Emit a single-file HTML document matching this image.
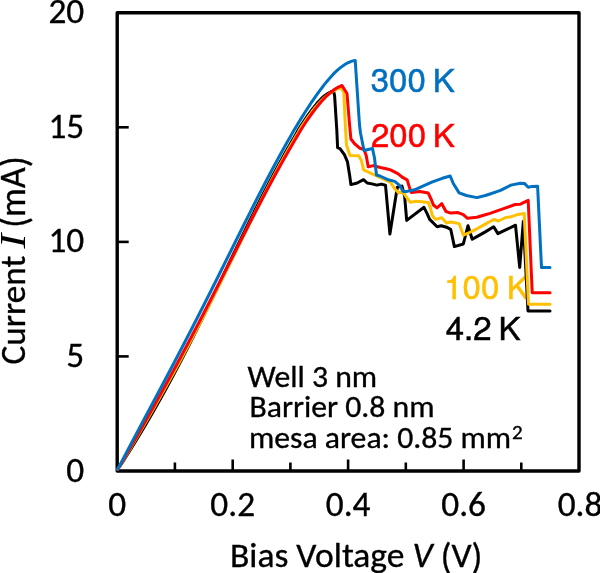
<!DOCTYPE html>
<html><head><meta charset="utf-8"><style>
html,body{margin:0;padding:0;background:#fff;width:600px;height:573px;overflow:hidden}
svg{display:block}
.c{font-family:Carlito,"Liberation Sans",sans-serif;stroke:#000;stroke-width:0.35px}
.h{font-family:"TeX Gyre Heros","Liberation Sans",Arial,sans-serif}
</style></head><body>
<svg width="600" height="573" viewBox="0 0 600 573">
<path d="M117.2,12.75 H579.0 V471.0 H117.2 Z" fill="none" stroke="#000" stroke-width="3.4" stroke-linejoin="round"/>
<g stroke="#000" stroke-width="2.6"><line x1="174.9" y1="471.0" x2="174.9" y2="462.5"/><line x1="232.7" y1="471.0" x2="232.7" y2="459.5"/><line x1="290.4" y1="471.0" x2="290.4" y2="462.5"/><line x1="348.1" y1="471.0" x2="348.1" y2="459.5"/><line x1="405.8" y1="471.0" x2="405.8" y2="462.5"/><line x1="463.6" y1="471.0" x2="463.6" y2="459.5"/><line x1="521.3" y1="471.0" x2="521.3" y2="462.5"/><line x1="117.2" y1="356.4" x2="128.7" y2="356.4"/><line x1="117.2" y1="241.9" x2="128.7" y2="241.9"/><line x1="117.2" y1="127.3" x2="128.7" y2="127.3"/></g>
<g class="h" font-size="33" stroke-width="0.5">
<text x="370.7" y="91.7" fill="#0070C0" stroke="#0070C0" textLength="55.05" lengthAdjust="spacingAndGlyphs">300</text><text x="432.8" y="91.7" fill="#0070C0" stroke="#0070C0" font-size="32" textLength="22" lengthAdjust="spacingAndGlyphs">K</text>
<text x="371" y="147" fill="#FF0000" stroke="#FF0000" textLength="55.05" lengthAdjust="spacingAndGlyphs">200</text><text x="432.8" y="147" fill="#FF0000" stroke="#FF0000" font-size="32" textLength="22" lengthAdjust="spacingAndGlyphs">K</text>
<text x="444.2" y="298.5" fill="#FFC000" stroke="#FFC000" textLength="55.05" lengthAdjust="spacingAndGlyphs">100</text><text x="506.8" y="298.5" fill="#FFC000" stroke="#FFC000" font-size="32" textLength="22" lengthAdjust="spacingAndGlyphs">K</text>
<text x="445.75" y="340.2" fill="#000" stroke="#000" textLength="45.88" lengthAdjust="spacingAndGlyphs">4.2</text><text x="498.5" y="340.2" fill="#000" stroke="#000" font-size="32" textLength="22" lengthAdjust="spacingAndGlyphs">K</text>
</g>
<g fill="none" stroke-width="3" stroke-linejoin="round" stroke-linecap="round">
<path stroke="#000000" d="M117.60,469.30 C118.28,468.33 120.36,465.47 121.68,463.50 C123.00,461.53 124.25,459.50 125.52,457.50 C126.79,455.50 128.06,453.50 129.31,451.50 C130.56,449.50 131.81,447.50 133.05,445.50 C134.29,443.50 135.51,441.50 136.73,439.50 C137.95,437.50 139.17,435.50 140.37,433.50 C141.57,431.50 142.76,429.50 143.95,427.50 C145.14,425.50 146.32,423.50 147.49,421.50 C148.66,419.50 149.82,417.50 150.98,415.50 C152.14,413.50 153.29,411.50 154.43,409.50 C155.57,407.50 156.70,405.50 157.83,403.50 C158.96,401.50 160.08,399.50 161.19,397.50 C162.30,395.50 163.41,393.50 164.51,391.50 C165.61,389.50 166.70,387.50 167.79,385.50 C168.88,383.50 169.96,381.50 171.04,379.50 C172.12,377.50 173.19,375.50 174.25,373.50 C175.31,371.50 176.37,369.50 177.42,367.50 C178.47,365.50 179.53,363.50 180.57,361.50 C181.61,359.50 182.65,357.50 183.68,355.50 C184.71,353.50 185.74,351.50 186.76,349.50 C187.78,347.50 188.81,345.50 189.82,343.50 C190.83,341.50 191.84,339.50 192.85,337.50 C193.86,335.50 194.86,333.50 195.86,331.50 C196.86,329.50 197.86,327.50 198.85,325.50 C199.84,323.50 200.83,321.50 201.82,319.50 C202.81,317.50 203.79,315.50 204.77,313.50 C205.75,311.50 206.72,309.50 207.70,307.50 C208.68,305.50 209.66,303.50 210.63,301.50 C211.60,299.50 212.57,297.50 213.54,295.50 C214.51,293.50 215.47,291.50 216.44,289.50 C217.41,287.50 218.37,285.50 219.33,283.50 C220.29,281.50 221.26,279.50 222.22,277.50 C223.18,275.50 224.15,273.50 225.11,271.50 C226.07,269.50 227.04,267.50 228.00,265.50 C228.96,263.50 229.93,261.50 230.89,259.50 C231.85,257.50 232.81,255.50 233.78,253.50 C234.75,251.50 235.71,249.50 236.68,247.50 C237.65,245.50 238.62,243.50 239.59,241.50 C240.56,239.50 241.53,237.50 242.51,235.50 C243.48,233.50 244.46,231.50 245.44,229.50 C246.42,227.50 247.40,225.50 248.39,223.50 C249.38,221.50 250.36,219.50 251.35,217.50 C252.34,215.50 253.34,213.50 254.34,211.50 C255.34,209.50 256.34,207.50 257.35,205.50 C258.36,203.50 259.37,201.50 260.39,199.50 C261.41,197.50 262.43,195.50 263.46,193.50 C264.49,191.50 265.52,189.50 266.56,187.50 C267.60,185.50 268.64,183.50 269.69,181.50 C270.74,179.50 271.80,177.50 272.86,175.50 C273.92,173.50 274.99,171.50 276.07,169.50 C277.15,167.50 278.23,165.50 279.32,163.50 C280.41,161.50 281.51,159.50 282.62,157.50 C283.73,155.50 284.85,153.50 285.97,151.50 C287.10,149.50 288.23,147.50 289.37,145.50 C290.51,143.50 291.66,141.50 292.82,139.50 C293.98,137.50 295.40,135.11 296.32,133.50 C297.24,131.89 297.65,130.97 298.32,129.83 C298.99,128.69 299.65,127.69 300.32,126.64 C300.99,125.59 301.65,124.56 302.32,123.53 C302.99,122.50 303.65,121.49 304.32,120.49 C304.99,119.49 305.65,118.51 306.32,117.54 C306.99,116.57 307.65,115.61 308.32,114.67 C308.99,113.73 309.65,112.80 310.32,111.89 C310.99,110.98 311.65,110.08 312.32,109.20 C312.99,108.32 313.65,107.46 314.32,106.62 C314.99,105.78 315.65,104.95 316.32,104.15 C316.99,103.35 317.65,102.58 318.32,101.83 C318.99,101.08 319.65,100.36 320.32,99.67 C320.99,98.98 321.65,98.33 322.32,97.71 C322.99,97.09 323.65,96.50 324.32,95.96 C324.99,95.42 325.65,94.91 326.32,94.45 C326.99,93.99 327.65,93.56 328.32,93.19 C328.99,92.82 329.65,92.49 330.32,92.22 C330.99,91.95 331.77,91.70 332.32,91.55 C332.87,91.40 333.39,91.34 333.60,91.30 L334.60,95.70 L336.80,130.00 L337.60,147.70 L340.00,148.60 L344.40,154.70 L347.40,161.60 L349.60,175.00 L350.90,184.60 L357.20,183.00 L363.50,179.70 L367.20,183.00 L371.90,183.90 L377.10,185.10 L381.30,184.10 L385.50,185.20 L389.90,234.00 L397.30,187.20 L402.00,186.10 L404.60,196.10 L406.70,220.40 L424.00,207.30 L427.10,213.60 L429.70,219.40 L437.10,226.70 L441.30,225.70 L446.50,227.20 L450.70,229.30 L454.40,246.60 L463.30,244.00 L468.00,225.70 L472.20,239.30 L476.90,236.60 L485.30,231.90 L493.70,226.80 L497.90,233.60 L505.70,229.90 L515.50,225.20 L519.70,267.40 L523.30,221.50 L528.00,311.00 L550.00,311.00"/>
<path stroke="#FFC000" d="M117.60,469.30 C118.24,468.33 120.22,465.47 121.45,463.50 C122.69,461.53 123.83,459.50 125.01,457.50 C126.20,455.50 127.38,453.50 128.56,451.50 C129.74,449.50 130.92,447.50 132.10,445.50 C133.28,443.50 134.46,441.50 135.63,439.50 C136.80,437.50 137.97,435.50 139.14,433.50 C140.31,431.50 141.48,429.50 142.64,427.50 C143.80,425.50 144.96,423.50 146.12,421.50 C147.28,419.50 148.43,417.50 149.58,415.50 C150.73,413.50 151.88,411.50 153.02,409.50 C154.16,407.50 155.30,405.50 156.44,403.50 C157.58,401.50 158.71,399.50 159.84,397.50 C160.97,395.50 162.09,393.50 163.21,391.50 C164.33,389.50 165.45,387.50 166.56,385.50 C167.67,383.50 168.78,381.50 169.89,379.50 C171.00,377.50 172.10,375.50 173.20,373.50 C174.30,371.50 175.39,369.50 176.48,367.50 C177.57,365.50 178.65,363.50 179.73,361.50 C180.81,359.50 181.90,357.50 182.97,355.50 C184.04,353.50 185.11,351.50 186.17,349.50 C187.23,347.50 188.29,345.50 189.35,343.50 C190.41,341.50 191.46,339.50 192.51,337.50 C193.56,335.50 194.61,333.50 195.65,331.50 C196.69,329.50 197.73,327.50 198.76,325.50 C199.79,323.50 200.82,321.50 201.85,319.50 C202.88,317.50 203.90,315.50 204.92,313.50 C205.94,311.50 206.96,309.50 207.98,307.50 C209.00,305.50 210.00,303.50 211.01,301.50 C212.02,299.50 213.02,297.50 214.02,295.50 C215.02,293.50 216.03,291.50 217.03,289.50 C218.03,287.50 219.02,285.50 220.01,283.50 C221.00,281.50 222.00,279.50 222.99,277.50 C223.98,275.50 224.96,273.50 225.95,271.50 C226.94,269.50 227.92,267.50 228.90,265.50 C229.88,263.50 230.87,261.50 231.85,259.50 C232.83,257.50 233.82,255.50 234.80,253.50 C235.78,251.50 236.76,249.50 237.74,247.50 C238.72,245.50 239.71,243.50 240.69,241.50 C241.67,239.50 242.66,237.50 243.64,235.50 C244.62,233.50 245.60,231.50 246.59,229.50 C247.58,227.50 248.57,225.50 249.56,223.50 C250.55,221.50 251.53,219.50 252.53,217.50 C253.53,215.50 254.53,213.50 255.53,211.50 C256.53,209.50 257.53,207.50 258.54,205.50 C259.55,203.50 260.56,201.50 261.58,199.50 C262.60,197.50 263.62,195.50 264.64,193.50 C265.66,191.50 266.69,189.50 267.73,187.50 C268.77,185.50 269.81,183.50 270.86,181.50 C271.91,179.50 272.96,177.50 274.02,175.50 C275.08,173.50 276.14,171.50 277.22,169.50 C278.30,167.50 279.39,165.50 280.48,163.50 C281.57,161.50 282.67,159.50 283.78,157.50 C284.89,155.50 286.01,153.50 287.14,151.50 C288.27,149.50 289.41,147.50 290.56,145.50 C291.71,143.50 292.87,141.50 294.04,139.50 C295.21,137.50 296.66,135.13 297.59,133.50 C298.51,131.87 298.92,130.89 299.59,129.73 C300.26,128.57 300.92,127.60 301.59,126.56 C302.26,125.52 302.92,124.49 303.59,123.48 C304.26,122.47 304.92,121.46 305.59,120.48 C306.26,119.50 306.92,118.53 307.59,117.58 C308.26,116.63 308.92,115.69 309.59,114.78 C310.26,113.87 310.92,112.97 311.59,112.09 C312.26,111.21 312.92,110.34 313.59,109.50 C314.26,108.66 314.92,107.83 315.59,107.03 C316.26,106.23 316.92,105.44 317.59,104.68 C318.26,103.92 318.92,103.17 319.59,102.45 C320.26,101.73 320.92,101.03 321.59,100.35 C322.26,99.67 322.92,99.01 323.59,98.38 C324.26,97.75 324.92,97.14 325.59,96.56 C326.26,95.98 326.92,95.42 327.59,94.89 C328.26,94.36 328.92,93.85 329.59,93.37 C330.26,92.89 330.92,92.44 331.59,92.01 C332.26,91.59 332.92,91.19 333.59,90.82 C334.26,90.45 334.92,90.10 335.59,89.79 C336.26,89.48 336.92,89.20 337.59,88.95 C338.26,88.70 338.99,88.47 339.59,88.29 C340.19,88.12 340.93,87.97 341.20,87.90 L343.80,92.50 L345.30,125.00 L346.50,145.10 L350.00,155.50 L358.80,155.80 L361.40,160.50 L363.60,169.80 L380.00,177.50 L390.50,182.50 L394.70,188.70 L398.80,192.90 L402.50,191.40 L405.70,196.10 L410.40,202.40 L415.60,201.30 L421.90,201.80 L428.20,202.40 L430.30,207.50 L432.40,215.70 L435.50,219.40 L441.80,217.80 L446.50,223.00 L450.70,222.00 L459.10,223.60 L463.30,235.10 L467.50,233.50 L476.90,228.80 L485.30,224.10 L490.00,221.50 L494.20,219.40 L498.40,221.00 L505.70,217.50 L510.90,216.80 L517.20,214.70 L524.20,213.40 L528.50,304.20 L550.00,304.20"/>
<path stroke="#FF0000" d="M117.60,469.30 C118.21,468.33 120.09,465.47 121.28,463.50 C122.47,461.53 123.59,459.50 124.74,457.50 C125.89,455.50 127.03,453.50 128.18,451.50 C129.33,449.50 130.47,447.50 131.62,445.50 C132.77,443.50 133.91,441.50 135.05,439.50 C136.19,437.50 137.33,435.50 138.47,433.50 C139.61,431.50 140.74,429.50 141.87,427.50 C143.00,425.50 144.14,423.50 145.27,421.50 C146.40,419.50 147.52,417.50 148.64,415.50 C149.76,413.50 150.89,411.50 152.01,409.50 C153.13,407.50 154.24,405.50 155.35,403.50 C156.46,401.50 157.58,399.50 158.69,397.50 C159.80,395.50 160.90,393.50 162.00,391.50 C163.10,389.50 164.20,387.50 165.30,385.50 C166.40,383.50 167.49,381.50 168.58,379.50 C169.67,377.50 170.76,375.50 171.85,373.50 C172.94,371.50 174.01,369.50 175.09,367.50 C176.17,365.50 177.25,363.50 178.32,361.50 C179.39,359.50 180.47,357.50 181.54,355.50 C182.61,353.50 183.68,351.50 184.74,349.50 C185.80,347.50 186.86,345.50 187.92,343.50 C188.98,341.50 190.03,339.50 191.08,337.50 C192.13,335.50 193.18,333.50 194.23,331.50 C195.28,329.50 196.33,327.50 197.37,325.50 C198.41,323.50 199.45,321.50 200.49,319.50 C201.53,317.50 202.57,315.50 203.60,313.50 C204.63,311.50 205.66,309.50 206.69,307.50 C207.72,305.50 208.75,303.50 209.78,301.50 C210.81,299.50 211.83,297.50 212.85,295.50 C213.87,293.50 214.90,291.50 215.92,289.50 C216.94,287.50 217.96,285.50 218.98,283.50 C220.00,281.50 221.01,279.50 222.03,277.50 C223.05,275.50 224.06,273.50 225.08,271.50 C226.10,269.50 227.11,267.50 228.12,265.50 C229.13,263.50 230.15,261.50 231.17,259.50 C232.19,257.50 233.19,255.50 234.21,253.50 C235.23,251.50 236.24,249.50 237.26,247.50 C238.28,245.50 239.29,243.50 240.31,241.50 C241.33,239.50 242.35,237.50 243.37,235.50 C244.39,233.50 245.41,231.50 246.43,229.50 C247.45,227.50 248.48,225.50 249.51,223.50 C250.54,221.50 251.57,219.50 252.60,217.50 C253.63,215.50 254.67,213.50 255.71,211.50 C256.75,209.50 257.78,207.50 258.83,205.50 C259.88,203.50 260.93,201.50 261.98,199.50 C263.03,197.50 264.09,195.50 265.15,193.50 C266.21,191.50 267.27,189.50 268.34,187.50 C269.41,185.50 270.49,183.50 271.57,181.50 C272.65,179.50 273.74,177.50 274.83,175.50 C275.92,173.50 277.02,171.50 278.12,169.50 C279.22,167.50 280.33,165.50 281.45,163.50 C282.57,161.50 283.70,159.50 284.83,157.50 C285.96,155.50 287.10,153.50 288.25,151.50 C289.40,149.50 290.54,147.50 291.71,145.50 C292.88,143.50 294.06,141.50 295.24,139.50 C296.42,137.50 297.88,135.10 298.81,133.50 C299.74,131.90 300.14,131.03 300.81,129.91 C301.48,128.79 302.14,127.80 302.81,126.77 C303.48,125.74 304.14,124.72 304.81,123.71 C305.48,122.70 306.14,121.71 306.81,120.73 C307.48,119.75 308.14,118.78 308.81,117.83 C309.48,116.88 310.14,115.94 310.81,115.01 C311.48,114.08 312.14,113.17 312.81,112.27 C313.48,111.37 314.14,110.49 314.81,109.63 C315.48,108.77 316.14,107.92 316.81,107.09 C317.48,106.26 318.14,105.44 318.81,104.64 C319.48,103.84 320.14,103.05 320.81,102.29 C321.48,101.53 322.14,100.78 322.81,100.06 C323.48,99.34 324.14,98.63 324.81,97.94 C325.48,97.25 326.14,96.58 326.81,95.94 C327.48,95.30 328.14,94.68 328.81,94.08 C329.48,93.48 330.14,92.90 330.81,92.35 C331.48,91.80 332.14,91.27 332.81,90.76 C333.48,90.26 334.14,89.77 334.81,89.32 C335.48,88.87 336.14,88.44 336.81,88.04 C337.48,87.64 338.14,87.26 338.81,86.92 C339.48,86.58 340.28,86.22 340.81,85.98 C341.34,85.74 341.80,85.58 342.00,85.50 L347.00,93.50 L349.60,125.00 L350.90,139.00 L354.40,143.50 L360.00,148.30 L364.00,149.60 L366.20,155.50 L368.20,166.80 L373.50,165.60 L380.30,167.50 L386.30,168.80 L390.50,169.90 L397.80,173.60 L403.00,177.70 L407.20,179.80 L409.80,188.70 L411.40,192.40 L419.80,191.40 L428.20,192.90 L431.50,200.00 L433.40,205.00 L437.00,207.90 L441.80,203.70 L446.00,211.50 L450.70,213.10 L458.00,212.60 L463.30,214.70 L467.50,218.30 L476.90,217.30 L485.30,214.70 L490.00,213.40 L503.60,208.70 L515.10,204.50 L520.40,204.20 L528.20,200.30 L532.20,292.70 L550.00,292.70"/>
<path stroke="#0070C0" d="M117.60,469.30 C118.13,468.33 119.71,465.47 120.76,463.50 C121.81,461.53 122.84,459.50 123.89,457.50 C124.94,455.50 125.98,453.50 127.03,451.50 C128.08,449.50 129.13,447.50 130.19,445.50 C131.25,443.50 132.30,441.50 133.36,439.50 C134.42,437.50 135.48,435.50 136.54,433.50 C137.60,431.50 138.67,429.50 139.73,427.50 C140.79,425.50 141.86,423.50 142.92,421.50 C143.98,419.50 145.05,417.50 146.11,415.50 C147.17,413.50 148.24,411.50 149.30,409.50 C150.37,407.50 151.44,405.50 152.50,403.50 C153.56,401.50 154.63,399.50 155.69,397.50 C156.75,395.50 157.81,393.50 158.87,391.50 C159.93,389.50 161.00,387.50 162.06,385.50 C163.12,383.50 164.17,381.50 165.23,379.50 C166.29,377.50 167.34,375.50 168.40,373.50 C169.46,371.50 170.51,369.50 171.56,367.50 C172.61,365.50 173.65,363.50 174.70,361.50 C175.75,359.50 176.80,357.50 177.84,355.50 C178.88,353.50 179.93,351.50 180.97,349.50 C182.01,347.50 183.05,345.50 184.09,343.50 C185.13,341.50 186.16,339.50 187.19,337.50 C188.22,335.50 189.26,333.50 190.29,331.50 C191.32,329.50 192.34,327.50 193.37,325.50 C194.40,323.50 195.42,321.50 196.44,319.50 C197.46,317.50 198.47,315.50 199.49,313.50 C200.51,311.50 201.52,309.50 202.54,307.50 C203.56,305.50 204.57,303.50 205.58,301.50 C206.59,299.50 207.59,297.50 208.60,295.50 C209.61,293.50 210.62,291.50 211.62,289.50 C212.62,287.50 213.63,285.50 214.63,283.50 C215.63,281.50 216.63,279.50 217.63,277.50 C218.63,275.50 219.62,273.50 220.62,271.50 C221.62,269.50 222.62,267.50 223.61,265.50 C224.61,263.50 225.60,261.50 226.59,259.50 C227.58,257.50 228.58,255.50 229.57,253.50 C230.56,251.50 231.56,249.50 232.55,247.50 C233.54,245.50 234.53,243.50 235.53,241.50 C236.53,239.50 237.52,237.50 238.52,235.50 C239.52,233.50 240.51,231.50 241.51,229.50 C242.51,227.50 243.50,225.50 244.50,223.50 C245.50,221.50 246.50,219.50 247.51,217.50 C248.51,215.50 249.52,213.50 250.53,211.50 C251.54,209.50 252.55,207.50 253.56,205.50 C254.57,203.50 255.58,201.50 256.60,199.50 C257.62,197.50 258.64,195.50 259.67,193.50 C260.70,191.50 261.73,189.50 262.76,187.50 C263.79,185.50 264.84,183.50 265.88,181.50 C266.92,179.50 267.97,177.50 269.02,175.50 C270.07,173.50 271.12,171.50 272.19,169.50 C273.25,167.50 274.33,165.50 275.41,163.50 C276.49,161.50 277.57,159.50 278.66,157.50 C279.75,155.50 280.84,153.50 281.95,151.50 C283.06,149.50 284.17,147.50 285.29,145.50 C286.41,143.50 287.54,141.50 288.68,139.50 C289.82,137.50 291.21,135.07 292.12,133.50 C293.03,131.93 293.45,131.21 294.12,130.08 C294.79,128.95 295.45,127.83 296.12,126.71 C296.79,125.59 297.45,124.48 298.12,123.38 C298.79,122.28 299.45,121.19 300.12,120.10 C300.79,119.01 301.45,117.93 302.12,116.86 C302.79,115.79 303.45,114.73 304.12,113.68 C304.79,112.63 305.45,111.58 306.12,110.54 C306.79,109.50 307.45,108.48 308.12,107.46 C308.79,106.44 309.45,105.43 310.12,104.43 C310.79,103.43 311.45,102.43 312.12,101.45 C312.79,100.47 313.45,99.49 314.12,98.53 C314.79,97.57 315.45,96.62 316.12,95.68 C316.79,94.74 317.45,93.80 318.12,92.88 C318.79,91.96 319.45,91.04 320.12,90.14 C320.79,89.24 321.45,88.36 322.12,87.48 C322.79,86.61 323.45,85.74 324.12,84.89 C324.79,84.04 325.45,83.22 326.12,82.40 C326.79,81.58 327.45,80.77 328.12,79.99 C328.79,79.20 329.45,78.44 330.12,77.69 C330.79,76.94 331.45,76.21 332.12,75.50 C332.79,74.79 333.45,74.09 334.12,73.42 C334.79,72.75 335.45,72.09 336.12,71.46 C336.79,70.83 337.45,70.22 338.12,69.64 C338.79,69.06 339.45,68.49 340.12,67.95 C340.79,67.41 341.45,66.90 342.12,66.41 C342.79,65.92 343.45,65.46 344.12,65.02 C344.79,64.58 345.45,64.17 346.12,63.79 C346.79,63.41 347.45,63.05 348.12,62.72 C348.79,62.39 349.45,62.10 350.12,61.83 C350.79,61.56 351.45,61.32 352.12,61.12 C352.79,60.91 353.61,60.72 354.12,60.60 C354.63,60.48 355.02,60.43 355.20,60.40 L359.50,125.00 L360.50,133.00 L364.00,150.50 L372.50,148.50 L374.50,158.00 L376.50,175.00 L380.00,176.00 L388.40,179.80 L394.70,181.40 L399.90,185.60 L403.00,191.40 L407.20,191.40 L414.60,189.80 L424.00,185.60 L432.40,181.90 L442.30,178.30 L450.20,176.00 L453.30,183.50 L459.10,192.90 L466.40,195.50 L476.90,197.60 L485.30,195.50 L490.00,194.00 L500.50,190.40 L510.90,185.10 L520.40,183.20 L524.60,183.60 L528.20,187.20 L531.90,186.40 L537.60,186.20 L541.50,267.60 L550.00,267.60"/>
</g>
<g class="c" font-size="35.3" fill="#000"><text x="84.2" y="481.5" text-anchor="end" textLength="17.89" lengthAdjust="spacingAndGlyphs">0</text><text x="84.2" y="366.9" text-anchor="end" textLength="17.89" lengthAdjust="spacingAndGlyphs">5</text><text x="84.2" y="252.4" text-anchor="end" textLength="35.78" lengthAdjust="spacingAndGlyphs">10</text><text x="84.2" y="137.8" text-anchor="end" textLength="35.78" lengthAdjust="spacingAndGlyphs">15</text><text x="84.2" y="23.2" text-anchor="end" textLength="35.78" lengthAdjust="spacingAndGlyphs">20</text><text x="117.2" y="515.8" text-anchor="middle" textLength="17.89" lengthAdjust="spacingAndGlyphs">0</text><text x="232.7" y="515.8" text-anchor="middle" textLength="44.70" lengthAdjust="spacingAndGlyphs">0.2</text><text x="348.1" y="515.8" text-anchor="middle" textLength="44.70" lengthAdjust="spacingAndGlyphs">0.4</text><text x="463.6" y="515.8" text-anchor="middle" textLength="44.70" lengthAdjust="spacingAndGlyphs">0.6</text><text x="580.0" y="515.8" text-anchor="middle" textLength="44.70" lengthAdjust="spacingAndGlyphs">0.8</text></g>
<g class="c" font-size="35.5" fill="#000">
<text x="230" y="566.6" textLength="174.44" lengthAdjust="spacingAndGlyphs">Bias Voltage</text><text x="412.47" y="566.6" font-style="italic" textLength="20.16" lengthAdjust="spacingAndGlyphs">V</text>
<text transform="translate(440.64,569.1) scale(1,1.065)" textLength="10.77" lengthAdjust="spacingAndGlyphs">(</text>
<text x="451.41" y="566.6" textLength="20.16" lengthAdjust="spacingAndGlyphs">V</text>
<text transform="translate(471.55,569.1) scale(1,1.065)" textLength="10.77" lengthAdjust="spacingAndGlyphs">)</text>
</g>
<g transform="translate(24.8,364.6) rotate(-90)">
<text class="c" font-size="35.2" x="0" y="0" fill="#000" textLength="108.78" lengthAdjust="spacingAndGlyphs">Current</text>
<text font-size="35.5" font-family="Liberation Serif,serif" font-style="italic" fill="#000" transform="translate(116.2,0) scale(1.25,1.02)" textLength="11.82" lengthAdjust="spacingAndGlyphs">I</text>
<g class="c" font-size="36" fill="#000">
<text transform="translate(136.8,2.2) scale(1,1.065)" textLength="10.92" lengthAdjust="spacingAndGlyphs">(</text>
<text x="147.71" y="0" textLength="49.59" lengthAdjust="spacingAndGlyphs">mA</text>
<text transform="translate(197.3,2.2) scale(1,1.065)" textLength="10.92" lengthAdjust="spacingAndGlyphs">)</text>
</g>
</g>
<g class="c" font-size="31.7" fill="#000">
<text x="247.5" y="386.7" textLength="129.70" lengthAdjust="spacingAndGlyphs">Well 3 nm</text>
<text x="249.5" y="416.5" textLength="185.02" lengthAdjust="spacingAndGlyphs">Barrier 0.8 nm</text>
<text x="249" y="448.4" textLength="262.19" lengthAdjust="spacingAndGlyphs">mesa area: 0.85 mm</text><text x="511.99" y="439.2" font-size="21" textLength="10.66" lengthAdjust="spacingAndGlyphs">2</text>
</g>

</svg>
</body></html>
